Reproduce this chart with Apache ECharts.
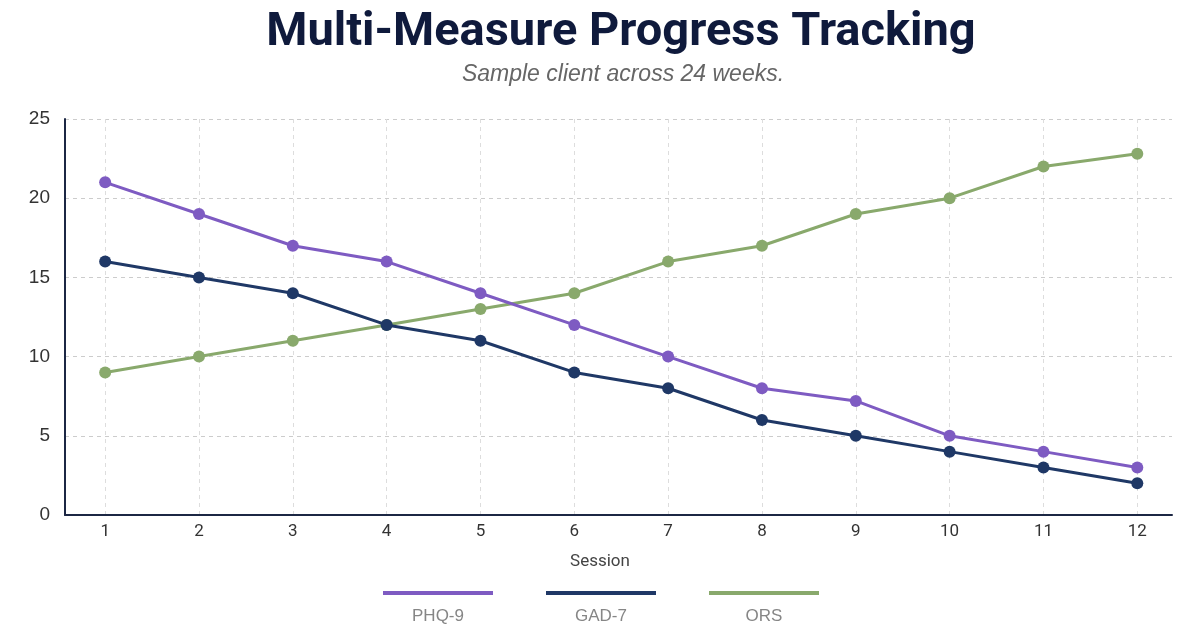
<!DOCTYPE html>
<html>
<head>
<meta charset="utf-8">
<script src="https://cdn.jsdelivr.net/npm/echarts@6/dist/echarts.min.js"></script>
<style>
html,body{margin:0;padding:0;background:#fff;}
#chart{width:1200px;height:630px;}
</style>
</head>
<body>
<div id="chart"></div>
<script>
const titleText = 'Multi-Measure Progress Tracking';
const subtitleText = 'Sample client across 24 weeks.';
const sessions = [1, 2, 3, 4, 5, 6, 7, 8, 9, 10, 11, 12];
const seriesNames = ['PHQ-9', 'GAD-7', 'ORS'];
const phq9 = [21, 19, 17, 16, 14, 12, 10, 8, 7.2, 5, 4, 3];
const gad7 = [16, 15, 14, 12, 11, 9, 8, 6, 5, 4, 3, 2];
const ors = [9, 10, 11, 12, 13, 14, 16, 17, 19, 20, 22, 22.8];
const yTicks = [0, 5, 10, 15, 20, 25];
const colors = ['#7e5bc2', '#1f3866', '#89a96c'];

const valuesBySeries = [phq9, gad7, ors];
const chart = echarts.init(document.getElementById('chart'), null, {renderer: 'canvas'});

const series = seriesNames.map((name, i) => ({
  name: name,
  type: 'line',
  data: sessions.map((s, j) => [s, valuesBySeries[i][j]]),
  symbol: 'circle',
  symbolSize: 12,
  color: colors[i],
  lineStyle: {width: 3, color: colors[i]},
  itemStyle: {color: colors[i]},
  z: 3 - i
}));

// legend labels: one single-item legend per series, text centred under its line
const legendLineLeft = [378, 541, 704];
const labelLegends = seriesNames.map((name, i) => ({
  data: [name],
  left: legendLineLeft[i] - 6,
  top: 603,
  icon: 'rect',
  itemWidth: 1,
  itemHeight: 1,
  itemStyle: {opacity: 0},
  lineStyle: {opacity: 0},
  selectedMode: false,
  formatter: '{a|{name}}',
  textStyle: {
    color: '#868686',
    fontFamily: 'Liberation Sans',
    fontSize: 17,
    rich: {a: {width: 110, align: 'center', fontSize: 17, color: '#868686', fontFamily: 'Liberation Sans'}}
  }
}));

const option = {
  animation: false,
  backgroundColor: '#ffffff',
  title: [
    {
      text: titleText,
      left: 616,
      textAlign: 'center',
      top: 5,
      textStyle: {fontFamily: 'Roboto', fontWeight: 'bold', fontSize: 47, color: '#0f1a3c'}
    },
    {
      text: subtitleText,
      left: 618,
      textAlign: 'center',
      top: 58,
      textStyle: {fontFamily: 'Liberation Sans', fontStyle: 'italic', fontWeight: 'normal', fontSize: 23, color: '#666666'}
    }
  ],
  legend: [
    {
      data: seriesNames,
      left: legendLineLeft[0],
      top: 586,
      icon: 'rect',
      itemWidth: 110,
      itemHeight: 4,
      itemGap: 53,
      formatter: () => '',
      selectedMode: false
    }
  ].concat(labelLegends),
  grid: {left: 65, right: 28, top: 119, bottom: 115, containLabel: false},
  xAxis: {
    type: 'value',
    min: 0.572,
    max: 12.37,
    name: 'Session',
    nameLocation: 'middle',
    nameGap: 38,
    nameTextStyle: {fontFamily: 'Roboto', fontSize: 17, color: '#444444', padding: [0, 37, 0, 0]},
    axisLine: {show: true, lineStyle: {color: '#1c2744', width: 2}},
    axisTick: {show: false, customValues: sessions},
    axisLabel: {customValues: sessions, fontFamily: 'Roboto', fontSize: 17, color: '#333333', margin: 8},
    splitLine: {show: true, lineStyle: {color: '#dddddd', type: [4, 4], width: 1}}
  },
  yAxis: {
    type: 'value',
    min: 0,
    max: 25,
    interval: 5,
    axisLine: {show: true, lineStyle: {color: '#1c2744', width: 2}},
    axisTick: {show: false},
    axisLabel: {fontFamily: 'Liberation Sans', fontSize: 19, color: '#333333', margin: 15,
      formatter: v => (yTicks.indexOf(v) >= 0 ? String(v) : '')},
    splitLine: {show: true, lineStyle: {color: '#cccccc', type: [4, 4], width: 1}}
  },
  series: series
};
chart.setOption(option);
</script>
</body>
</html>
